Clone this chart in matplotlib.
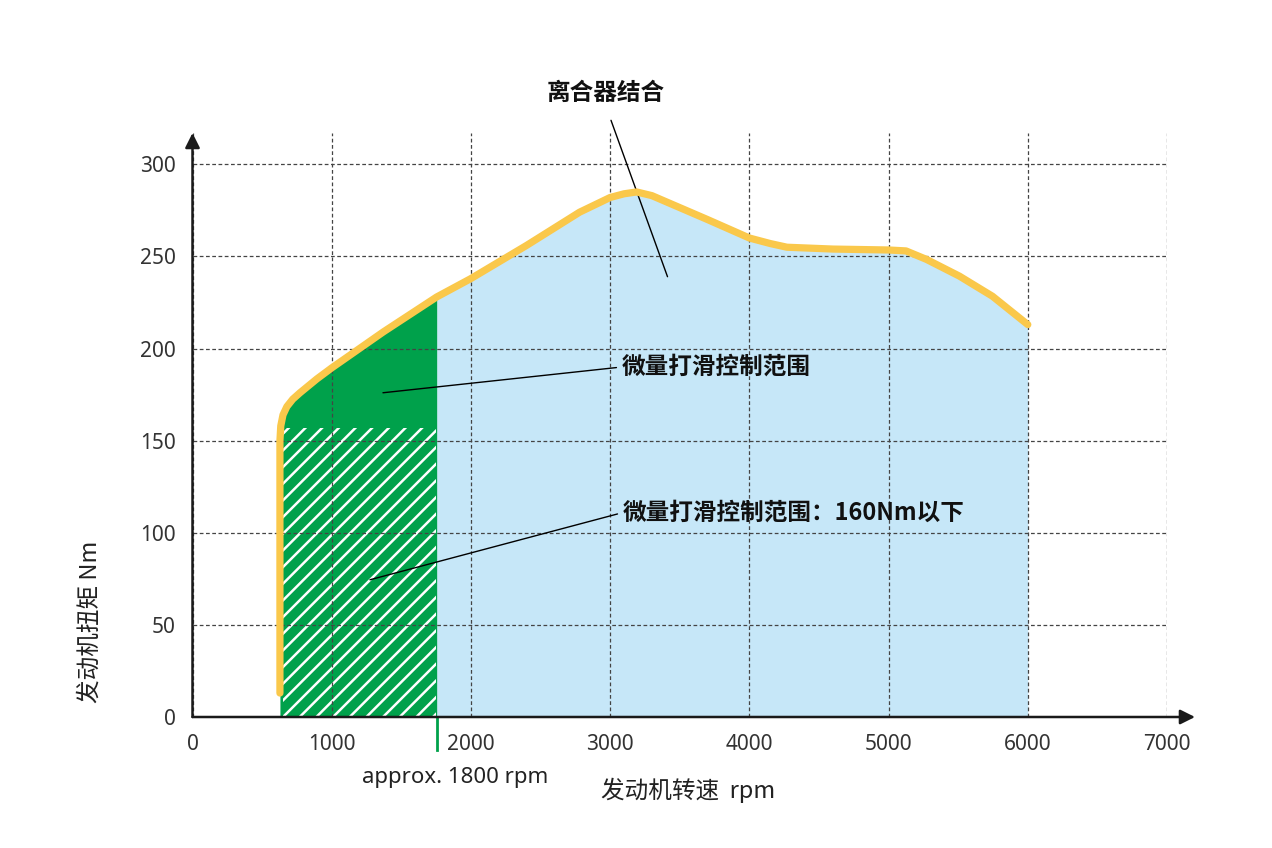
import numpy as np
import matplotlib
matplotlib.use("Agg")
import matplotlib.pyplot as plt

# ---- data ----
rpm = [628, 628, 634, 650, 678, 720, 772, 893, 1000, 1370, 1754, 2000, 2400, 2780, 3000, 3100, 3190,
       3300, 3700, 4000, 4150, 4270, 4600, 5000, 5125, 5272, 5509, 5746, 5868, 6000]
torque = [13, 150, 158, 164, 168.5, 172.5, 176, 183.5, 189.5, 209, 228, 238, 256, 274, 282, 284, 285,
          283, 270, 260, 257, 255, 254, 253.5, 253, 248.4, 239.3, 228.4, 221, 213]
split_rpm = 1754          # approx. 1800 rpm
slip_limit = 157          # 160 Nm hatch region top
x_ticks = [0, 1000, 2000, 3000, 4000, 5000, 6000, 7000]
y_ticks = [0, 50, 100, 150, 200, 250, 300]

label_clutch = "离合器结合"
label_slip = "微量打滑控制范围"
label_slip160 = "微量打滑控制范围：160Nm以下"
label_split = "approx. 1800 rpm"
xlabel = "发动机转速  rpm"
ylabel = "发动机扭矩 Nm"

# ---- style ----
plt.rcParams['font.family'] = ['Noto Sans CJK SC', 'DejaVu Sans']
plt.rcParams['hatch.linewidth'] = 1.8

BLUE = '#c6e7f8'
GREEN = '#00a14b'
YELLOW = '#fac84b'

fig = plt.figure(figsize=(12.72, 8.48), dpi=100)
ax = fig.add_axes([0.15134, 0.15448, 0.76612, 0.68868])

r = np.array(rpm, dtype=float)
t = np.array(torque, dtype=float)

ax.fill_between(r, 0, t, where=r >= split_rpm, color=BLUE, lw=0, zorder=1)
ax.fill_between(r, 0, t, where=r <= split_rpm, color=GREEN, lw=0, zorder=1.2)
ax.fill_between([r[0] + 20, split_rpm - 5], 0, slip_limit, facecolor='none',
                edgecolor='white', hatch='//', lw=0, zorder=1.4)

ax.plot(r, t, color=YELLOW, lw=5.2, solid_capstyle='round', solid_joinstyle='round', zorder=4)

# green marker for ~1800 rpm
ax.plot([split_rpm, split_rpm], [0, -18], color=GREEN, lw=2, clip_on=False, zorder=5)

ax.set_xlim(0, 7000)
ax.set_ylim(0, 317)
ax.set_xticks(x_ticks)
ax.set_yticks(y_ticks)
ax.set_xticklabels([str(v) for v in x_ticks], family=['Noto Sans', 'DejaVu Sans'], fontsize=15, color='#333333')
ax.set_yticklabels([str(v) for v in y_ticks], family=['Noto Sans', 'DejaVu Sans'], fontsize=15, color='#333333')
ax.tick_params(axis='both', length=0)
ax.tick_params(axis='x', pad=12)
ax.tick_params(axis='y', pad=12)

ax.grid(True, color='#444444', lw=0.9, linestyle=(0, (3, 2)))
ax.set_axisbelow(False)

for s in ['top', 'right', 'left', 'bottom']:
    ax.spines[s].set_visible(False)

ax.annotate('', xy=(1.0287, 0), xytext=(0, 0), xycoords='axes fraction', textcoords='axes fraction',
            arrowprops=dict(arrowstyle='-|>', lw=1.8, color='#1a1a1a', mutation_scale=22,
                            shrinkA=0, shrinkB=0), zorder=6)
ax.annotate('', xy=(0, 1.0), xytext=(0, 0), xycoords='axes fraction', textcoords='axes fraction',
            arrowprops=dict(arrowstyle='-|>', lw=1.8, color='#1a1a1a', mutation_scale=22,
                            shrinkA=0, shrinkB=0), zorder=6)

# annotations
ax.annotate(label_clutch, xy=(3412, 239), xytext=(2965, 339), ha='center', va='center',
            fontsize=17, fontweight='bold', color='#111111', annotation_clip=False,
            arrowprops=dict(arrowstyle='-', lw=1.0, color='black', shrinkA=10, shrinkB=0,
                            relpos=(0.5, 0)))
ax.annotate(label_slip, xy=(1368, 176), xytext=(3085, 190), ha='left', va='center',
            fontsize=17, fontweight='bold', color='#111111',
            arrowprops=dict(arrowstyle='-', lw=1.0, color='black', shrinkA=2, shrinkB=0,
                            relpos=(0, 0.5)))
ax.annotate(label_slip160, xy=(1275, 74.5), xytext=(3092, 111), ha='left', va='center',
            fontsize=17, fontweight='bold', color='#111111',
            arrowprops=dict(arrowstyle='-', lw=1.0, color='black', shrinkA=2, shrinkB=0,
                            relpos=(0, 0.5)))

ax.text(1885, -33, label_split, ha='center', va='center', fontsize=16,
        family=['Noto Sans', 'DejaVu Sans'], color='#222222', clip_on=False)

fig.text(0.541, 0.0684, xlabel, ha='center', va='center', fontsize=17, color='#222222')
fig.text(0.0708, 0.2665, ylabel, ha='center', va='center', fontsize=17, rotation=90, color='#222222')

fig.savefig('out.png', dpi=100, facecolor='white')
